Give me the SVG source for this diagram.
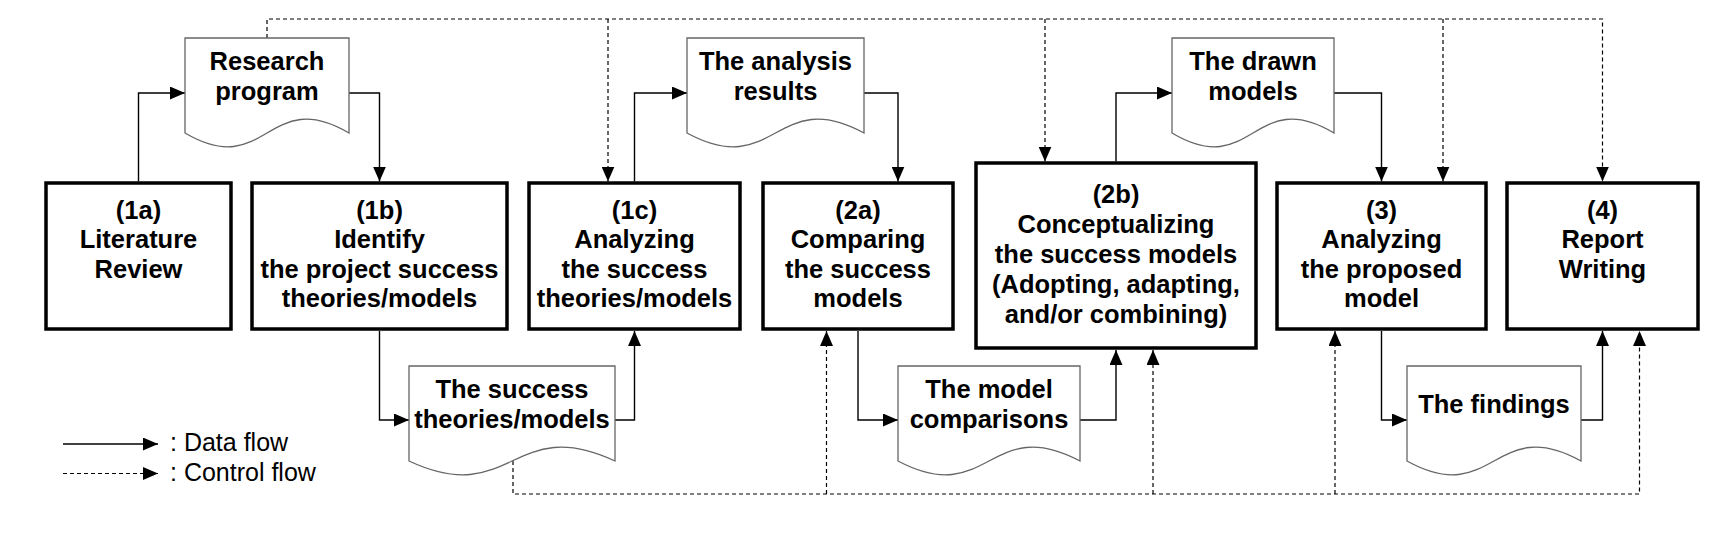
<svg xmlns="http://www.w3.org/2000/svg" width="1736" height="556" viewBox="0 0 1736 556">
<style>
.box{fill:#fff;stroke:#000;stroke-width:3.5}
.doc{fill:#fff;stroke:#666;stroke-width:1.3}
.t{font-family:"Liberation Sans",Arial,sans-serif;font-weight:bold;font-size:25.5px;text-anchor:middle;fill:#000}
.lg{font-family:"Liberation Sans",Arial,sans-serif;font-size:25px;fill:#000}
.s{fill:none;stroke:#000;stroke-width:1.4}
.d{fill:none;stroke:#000;stroke-width:1.2;stroke-dasharray:4 3}
</style>
<defs>
<marker id="ah" markerUnits="userSpaceOnUse" markerWidth="15" markerHeight="13" refX="15" refY="6.5" orient="auto">
<path d="M0,0 L15,6.5 L0,13 Z" fill="#000"/>
</marker>
</defs>
<rect width="1736" height="556" fill="#fff"/>

<g id="connectors">
<path class="s" d="M138.5,181.5 V93 H185" marker-end="url(#ah)"/>
<path class="s" d="M349,93 H379.5 V181.5" marker-end="url(#ah)"/>
<path class="s" d="M379.5,331 V420 H409" marker-end="url(#ah)"/>
<path class="s" d="M615,420 H634.5 V331" marker-end="url(#ah)"/>
<path class="s" d="M634.5,181.5 V93 H687" marker-end="url(#ah)"/>
<path class="s" d="M864,93 H898 V181.5" marker-end="url(#ah)"/>
<path class="s" d="M858,331 V420 H898" marker-end="url(#ah)"/>
<path class="s" d="M1080,420 H1116 V350" marker-end="url(#ah)"/>
<path class="s" d="M1116,161.5 V93 H1172" marker-end="url(#ah)"/>
<path class="s" d="M1334,93 H1381.5 V181.5" marker-end="url(#ah)"/>
<path class="s" d="M1381.5,331 V420 H1407" marker-end="url(#ah)"/>
<path class="s" d="M1581,420 H1602.5 V331" marker-end="url(#ah)"/>
<path class="d" d="M267,38 V19 H1602.5 V181.5" marker-end="url(#ah)"/>
<path class="d" d="M608,19 V181.5" marker-end="url(#ah)"/>
<path class="d" d="M1045,19 V161.5" marker-end="url(#ah)"/>
<path class="d" d="M1443,19 V181.5" marker-end="url(#ah)"/>
<path class="d" d="M513,461 V494 H1639.5 V331" marker-end="url(#ah)"/>
<path class="d" d="M826.5,494 V331" marker-end="url(#ah)"/>
<path class="d" d="M1153,494 V350" marker-end="url(#ah)"/>
<path class="d" d="M1335,494 V331" marker-end="url(#ah)"/>
</g>

<g id="n1a">
<rect class="box" x="46" y="183" width="185" height="146"/>
<text class="t" x="138.5" y="218.5">(1a)</text>
<text class="t" x="138.5" y="248">Literature</text>
<text class="t" x="138.5" y="277.5">Review</text>
</g>
<g id="n1b">
<rect class="box" x="252" y="183" width="255" height="146"/>
<text class="t" x="379.5" y="218.5">(1b)</text>
<text class="t" x="379.5" y="248">Identify</text>
<text class="t" x="379.5" y="277.5">the project success</text>
<text class="t" x="379.5" y="307">theories/models</text>
</g>
<g id="n1c">
<rect class="box" x="529" y="183" width="211" height="146"/>
<text class="t" x="634.5" y="218.5">(1c)</text>
<text class="t" x="634.5" y="248">Analyzing</text>
<text class="t" x="634.5" y="277.5">the success</text>
<text class="t" x="634.5" y="307">theories/models</text>
</g>
<g id="n2a">
<rect class="box" x="763" y="183" width="190" height="146"/>
<text class="t" x="858" y="218.5">(2a)</text>
<text class="t" x="858" y="248">Comparing</text>
<text class="t" x="858" y="277.5">the success</text>
<text class="t" x="858" y="307">models</text>
</g>
<g id="n2b">
<rect class="box" x="976" y="163" width="280" height="185"/>
<text class="t" x="1116" y="203">(2b)</text>
<text class="t" x="1116" y="233">Conceptualizing</text>
<text class="t" x="1116" y="263">the success models</text>
<text class="t" x="1116" y="293">(Adopting, adapting,</text>
<text class="t" x="1116" y="323">and/or combining)</text>
</g>
<g id="n3">
<rect class="box" x="1277" y="183" width="209" height="146"/>
<text class="t" x="1381.5" y="218.5">(3)</text>
<text class="t" x="1381.5" y="248">Analyzing</text>
<text class="t" x="1381.5" y="277.5">the proposed</text>
<text class="t" x="1381.5" y="307">model</text>
</g>
<g id="n4">
<rect class="box" x="1507" y="183" width="191" height="146"/>
<text class="t" x="1602.5" y="218.5">(4)</text>
<text class="t" x="1602.5" y="248">Report</text>
<text class="t" x="1602.5" y="277.5">Writing</text>
</g>

<g id="d_research">
<path class="doc" d="M185,133 V38 H349 V133 C267,85 267,181 185,133 Z"/>
<text class="t" x="267" y="70">Research</text>
<text class="t" x="267" y="99.5">program</text>
</g>
<g id="d_analysis">
<path class="doc" d="M687,133 V38 H864 V133 C775.5,85 775.5,181 687,133 Z"/>
<text class="t" x="775.5" y="70">The analysis</text>
<text class="t" x="775.5" y="99.5">results</text>
</g>
<g id="d_drawn">
<path class="doc" d="M1172,133 V38 H1334 V133 C1253,85 1253,181 1172,133 Z"/>
<text class="t" x="1253" y="70">The drawn</text>
<text class="t" x="1253" y="99.5">models</text>
</g>
<g id="d_success">
<path class="doc" d="M409,461 V366 H615 V461 C512,413 512,509 409,461 Z"/>
<text class="t" x="512" y="398">The success</text>
<text class="t" x="512" y="427.5">theories/models</text>
</g>
<g id="d_comparisons">
<path class="doc" d="M898,461 V366 H1080 V461 C989,413 989,509 898,461 Z"/>
<text class="t" x="989" y="398">The model</text>
<text class="t" x="989" y="427.5">comparisons</text>
</g>
<g id="d_findings">
<path class="doc" d="M1407,461 V366 H1581 V461 C1494,413 1494,509 1407,461 Z"/>
<text class="t" x="1494" y="413">The findings</text>
</g>

<g id="legend">
<path class="s" d="M63,444 H158" marker-end="url(#ah)"/>
<path class="d" d="M63,473.5 H158" marker-end="url(#ah)"/>
<text class="lg" x="170" y="451">: Data flow</text>
<text class="lg" x="170" y="481">: Control flow</text>
</g>
</svg>
